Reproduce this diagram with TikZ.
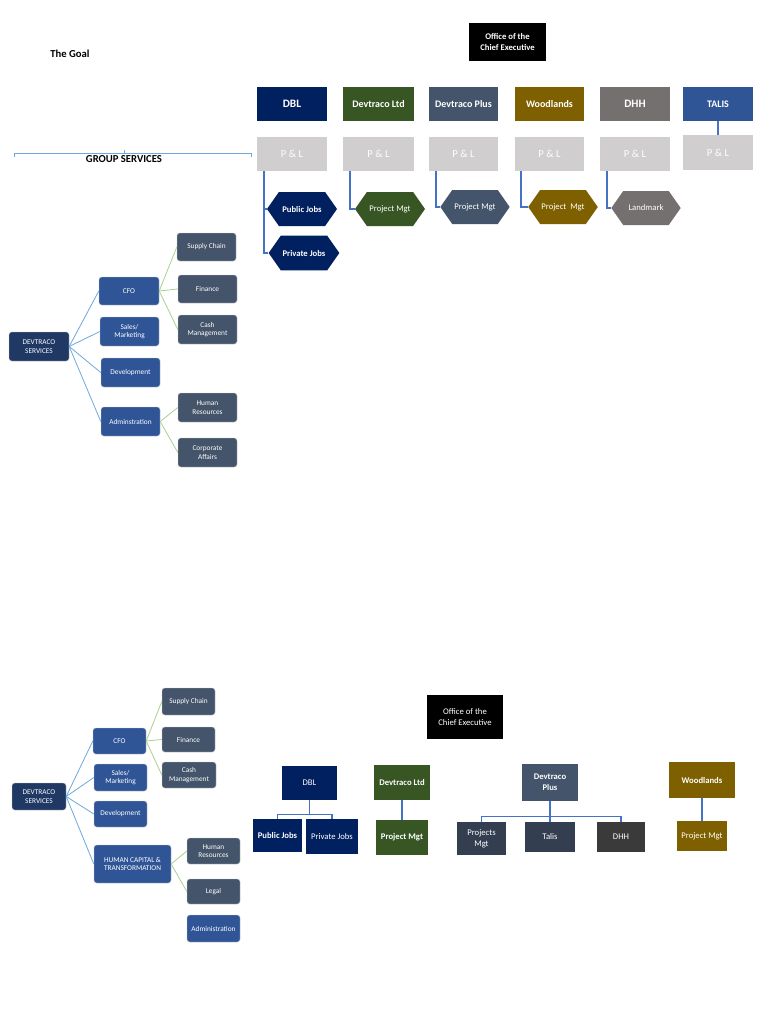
\documentclass[tikz,border=0pt]{standalone}
\usepackage{fontspec}
\setmainfont{Carlito}
\usetikzlibrary{shapes.symbols}
\definecolor{navy}{HTML}{002060}
\definecolor{dgreen}{HTML}{375623}
\definecolor{slate}{HTML}{44546A}
\definecolor{olive}{HTML}{7F6000}
\definecolor{dgray}{HTML}{747070}
\definecolor{mblue}{HTML}{2F5597}
\definecolor{dblue}{HTML}{1F3864}
\definecolor{pl}{HTML}{D0CECE}
\definecolor{dslate}{HTML}{333F50}
\definecolor{charc}{HTML}{3A3A3A}
\definecolor{lblue}{HTML}{6FA8DC}
\definecolor{lgreen}{HTML}{A9D18E}
\definecolor{cline}{HTML}{4472C4}
\newcommand{\bx}[7]{\node[#6,minimum width={(#4-#2)*0.75pt},minimum height={(#5-#3)*0.75pt}] (#1) at ({(#2+#4)/2},{(#3+#5)/2}) {#7};}
\tikzset{
 base/.style={inner sep=1pt,text=white,align=center,font=\fontsize{5.5}{6.5}\selectfont},
 rbox/.style={base,rounded corners=2pt,draw=white!80!black,line width=0.3pt},
 top/.style={base,font=\fontsize{7.5}{9}\selectfont\bfseries},
 plbox/.style={base,fill=pl,font=\fontsize{8}{9}\selectfont},
 hex/.style={base,shape=signal,signal to=west and east,signal pointer angle=110,font=\fontsize{6.5}{8}\selectfont},
 bl/.style={lblue,line width=0.6pt},
 gl/.style={lgreen,line width=0.6pt},
 cl/.style={cline,line width=0.8pt},
}
\begin{document}
\begin{tikzpicture}[x=0.75pt,y=-0.75pt]
\useasboundingbox[fill=white] (0,0) rectangle (768,1024);
\node[font=\fontsize{8}{9}\selectfont\bfseries] (goal) at (70,54) {The Goal};
\bx{oce}{469}{23}{546}{61}{top,fill=black,font=\fontsize{6.5}{8}\selectfont\bfseries}{Office of the\\Chief Executive}
\bx{dbl}{257}{87}{327}{121}{top,fill=navy,font=\fontsize{8.5}{9}\selectfont\bfseries}{DBL}
\bx{dl}{343}{87}{414}{121}{top,fill=dgreen}{Devtraco Ltd}
\bx{dp}{429}{87}{498}{121}{top,fill=slate}{Devtraco Plus}
\bx{wd}{515}{87}{584}{121}{top,fill=olive}{Woodlands}
\bx{dhh}{600}{87}{670}{121}{top,fill=dgray,font=\fontsize{8.5}{9}\selectfont\bfseries}{DHH}
\bx{tal}{683}{87}{753}{121}{top,fill=mblue}{TALIS}
\bx{p1}{257}{137}{327}{171}{plbox}{P \& L}
\bx{p2}{343}{137}{414}{171}{plbox}{P \& L}
\bx{p3}{429}{137}{498}{171}{plbox}{P \& L}
\bx{p4}{515}{137}{584}{171}{plbox}{P \& L}
\bx{p5}{600}{137}{670}{171}{plbox}{P \& L}
\bx{p6}{683}{135}{753}{170}{plbox}{P \& L}
\draw[cl] (tal.south) -- (p6.north);
\node[hex,fill=navy,minimum width=52.5pt,minimum height=25.5pt,font=\fontsize{6.5}{8}\selectfont\bfseries] (pub) at (302,209) {Public Jobs};
\node[hex,fill=navy,minimum width=53pt,minimum height=26pt,font=\fontsize{6.5}{8}\selectfont\bfseries] (pri) at (304,253) {Private Jobs};
\node[hex,fill=dgreen,minimum width=52.5pt,minimum height=25.5pt] (pm1) at (390,209) {Project Mgt};
\node[hex,fill=slate,minimum width=52pt,minimum height=25.5pt] (pm2) at (475,207) {Project Mgt};
\node[hex,fill=olive,minimum width=52pt,minimum height=25.5pt] (pm3) at (563,207) {Project\ \ Mgt};
\node[hex,fill=dgray,minimum width=52pt,minimum height=25.5pt] (lm) at (646,208) {Landmark};
\coordinate (c1) at (264,171);
\draw[cl] (c1) |- (pub.west);
\draw[cl] (c1) |- (pri.west);
\coordinate (c2) at (350,171); \draw[cl] (c2) |- (pm1.west);
\coordinate (c3) at (436,171); \draw[cl] (c3) |- (pm2.west);
\coordinate (c4) at (521,171); \draw[cl] (c4) |- (pm3.west);
\coordinate (c5) at (607,171); \draw[cl] (c5) |- (lm.west);
% group services bracket
\coordinate (g1) at (14,157); \coordinate (g2) at (251,157);
\draw[lblue,line width=0.4pt] (g1) -- ++(0,-4) -| (g2);
\draw[lblue,line width=0.4pt] (124,153) -- (124,150);
\node[font=\fontsize{8}{9}\selectfont\bfseries] (gs) at (124,159) {GROUP SERVICES};
% tree 1
\bx{ds}{9}{332}{69}{361}{rbox,fill=dblue}{DEVTRACO\\SERVICES}
\bx{cfo}{99}{277}{159}{305}{rbox,fill=mblue}{CFO}
\bx{sm}{100}{317}{159}{346}{rbox,fill=mblue}{Sales/\\Marketing}
\bx{dev}{101}{358}{160}{387}{rbox,fill=mblue}{Development}
\bx{adm}{101}{407}{160}{436}{rbox,fill=mblue}{Adminstration}
\bx{sc}{177}{233}{236}{261}{rbox,fill=slate}{Supply Chain}
\bx{fin}{178}{275}{237}{303}{rbox,fill=slate}{Finance}
\bx{cm}{178}{315}{237}{344}{rbox,fill=slate}{Cash\\Management}
\bx{hr}{178}{393}{237}{422}{rbox,fill=slate}{Human\\Resources}
\bx{ca}{178}{438}{237}{467}{rbox,fill=slate}{Corporate\\Affairs}
\foreach \t in {cfo,sm,dev,adm} \draw[bl] (ds.east) -- (\t.west);
\foreach \t in {sc,fin,cm} \draw[gl] (cfo.east) -- (\t.west);
\foreach \t in {hr,ca} \draw[gl] (adm.east) -- (\t.west);
% tree 2
\bx{dsb}{12}{783}{66}{810}{rbox,fill=dblue}{DEVTRACO\\SERVICES}
\bx{cfob}{93}{728}{146}{754}{rbox,fill=mblue}{CFO}
\bx{smb}{94}{764}{147}{791}{rbox,fill=mblue}{Sales/\\Marketing}
\bx{devb}{94}{801}{147}{827}{rbox,fill=mblue}{Development}
\bx{hc}{94}{845}{171}{883}{rbox,fill=mblue}{HUMAN CAPITAL \&\\TRANSFORMATION}
\bx{scb}{162}{688}{215}{715}{rbox,fill=slate}{Supply Chain}
\bx{finb}{162}{727}{215}{752}{rbox,fill=slate}{Finance}
\bx{cmb}{162}{762}{216}{788}{rbox,fill=slate}{Cash\\Management}
\bx{hrb}{187}{838}{240}{864}{rbox,fill=slate}{Human\\Resources}
\bx{lg}{187}{879}{240}{904}{rbox,fill=slate}{Legal}
\bx{admb}{187}{915}{240}{942}{rbox,fill=mblue}{Administration}
\foreach \t in {cfob,smb,devb,hc} \draw[bl] (dsb.east) -- (\t.west);
\foreach \t in {scb,finb,cmb} \draw[gl] (cfob.east) -- (\t.west);
\foreach \t in {hrb,lg} \draw[gl] (hc.east) -- (\t.west);
% bottom org
\bx{oceb}{427}{695}{503}{739}{top,fill=black,font=\fontsize{6.5}{8}\selectfont}{Office of the\\Chief Executive}
\bx{dblb}{282}{766}{337}{800}{top,fill=navy,font=\fontsize{6.5}{8}\selectfont}{DBL}
\bx{pubb}{253}{819}{302}{852}{top,fill=navy,font=\fontsize{6.5}{8}\selectfont\bfseries}{Public Jobs}
\bx{prib}{306}{819}{358}{854}{top,fill=navy,font=\fontsize{6.5}{8}\selectfont}{Private Jobs}
\bx{dlb}{374}{765}{430}{800}{top,fill=dgreen,font=\fontsize{6.5}{8}\selectfont\bfseries}{Devtraco Ltd}
\bx{pmb}{376}{820}{428}{855}{top,fill=dgreen,font=\fontsize{6.5}{8}\selectfont\bfseries}{Project Mgt}
\bx{dpb}{522}{764}{578}{801}{top,fill=slate,font=\fontsize{6.5}{8}\selectfont\bfseries}{Devtraco\\Plus}
\bx{ppm}{457}{822}{506}{855}{top,fill=dslate,font=\fontsize{6.5}{8}\selectfont}{Projects\\Mgt}
\bx{tlb}{525}{822}{575}{852}{top,fill=dslate,font=\fontsize{6.5}{8}\selectfont}{Talis}
\bx{dhb}{597}{822}{645}{852}{top,fill=charc,font=\fontsize{6.5}{8}\selectfont}{DHH}
\bx{wdb}{669}{762}{735}{798}{top,fill=olive,font=\fontsize{6.5}{8}\selectfont\bfseries}{Woodlands}
\bx{pmw}{677}{821}{727}{851}{top,fill=olive,font=\fontsize{6.5}{8}\selectfont}{Project Mgt}
\draw[cl] (dblb.south) -- ++(0,15) coordinate (j1);
\draw[cl] (pubb.north) -- ++(0,-4) -| (prib.north);
\draw[cl] (dlb.south) -- (pmb.north);
\draw[cl] (dpb.south) -- ++(0,16);
\draw[cl] (ppm.north) -- ++(0,-5) -| (dhb.north);
\draw[cl] (tlb.north) -- ++(0,-5);
\draw[cl] (wdb.south) -- (pmw.north);
\end{tikzpicture}
\end{document}
